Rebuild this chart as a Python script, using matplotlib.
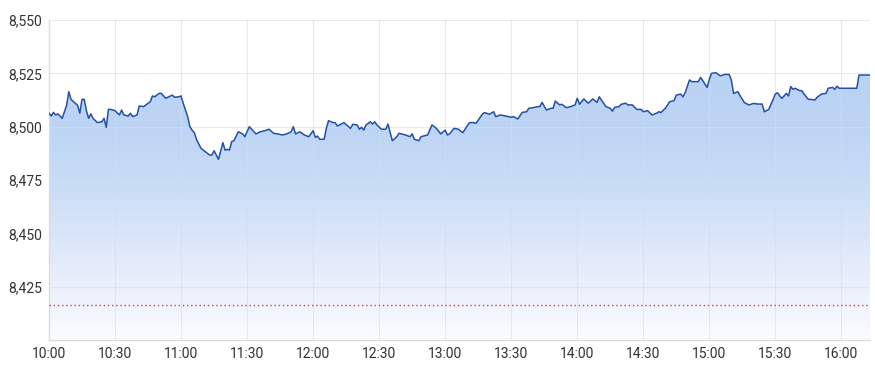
import numpy as np
import matplotlib
matplotlib.use("Agg")
import matplotlib.pyplot as plt
from matplotlib.patches import Polygon
from matplotlib.ticker import FuncFormatter

plt.rcParams["font.family"] = ["Roboto", "DejaVu Sans"]

# minutes after 10:00 and index level
minutes = [0, 1, 2, 3, 4, 5, 6, 8, 9, 10, 12, 13, 14, 15, 16, 17, 18, 19, 20, 22,
           24, 25, 26, 27, 28, 30, 32, 33, 34, 36, 37, 38, 40, 41, 43, 44, 46, 47, 48, 50,
           51, 53, 54, 56, 57, 59, 60, 61, 63, 64, 65, 66, 67, 69, 71, 73, 74, 75, 77, 79,
           80, 81, 82, 83, 84, 86, 88, 89, 91, 94, 96, 98, 100, 102, 104, 106, 108, 110, 111, 112,
           114, 116, 118, 120, 121, 122, 123, 125, 126, 127, 129, 130, 131, 134, 137, 138, 140, 141, 142, 143,
           144, 146, 147, 148, 149, 151, 153, 154, 155, 156, 158, 159, 162, 164, 165, 166, 168, 169, 172, 174,
           176, 178, 180, 181, 182, 184, 186, 188, 191, 193, 194, 197, 198, 200, 202, 203, 205, 207, 210, 211,
           213, 215, 217, 218, 220, 222, 223, 224, 226, 228, 229, 230, 232, 233, 235, 237, 239, 240, 241, 243,
           245, 247, 249, 250, 253, 255, 256, 257, 259, 260, 262, 263, 265, 267, 269, 270, 272, 274, 276, 277,
           278, 280, 282, 284, 285, 287, 288, 289, 291, 292, 294, 295, 296, 297, 299, 300, 301, 303, 305, 307,
           309, 310, 311, 313, 314, 316, 318, 320, 322, 324, 325, 326, 327, 329, 330, 331, 332, 333, 335, 336,
           337, 338, 339, 341, 342, 343, 345, 346, 348, 349, 351, 353, 354, 356, 357, 358, 359, 367, 368, 373]
level = [8506.3, 8505.0, 8506.7, 8505.5, 8506.0, 8505.0, 8503.9, 8510.0, 8516.4, 8512.8,
         8510.9, 8510.0, 8506.3, 8512.8, 8512.8, 8507.5, 8503.9, 8506.0, 8503.9, 8501.9,
         8502.3, 8503.9, 8499.7, 8508.1, 8508.1, 8507.5, 8505.5, 8507.8, 8505.5, 8505.0,
         8506.3, 8504.7, 8505.5, 8509.7, 8509.4, 8510.2, 8511.7, 8514.4, 8514.0, 8515.6,
         8515.6, 8513.3, 8513.8, 8514.8, 8513.8, 8514.0, 8514.4, 8510.9, 8504.7, 8500.0,
         8498.4, 8497.2, 8494.1, 8489.9, 8488.3, 8486.7, 8486.7, 8488.7, 8484.7, 8492.5,
         8489.0, 8489.4, 8489.0, 8493.0, 8493.4, 8497.6, 8496.6, 8495.3, 8500.0, 8496.6,
         8497.6, 8498.1, 8498.8, 8496.9, 8496.6, 8496.1, 8496.6, 8497.6, 8500.0, 8496.6,
         8497.6, 8496.1, 8495.3, 8498.1, 8495.0, 8495.6, 8494.1, 8494.1, 8499.2, 8502.8,
         8501.9, 8501.9, 8500.3, 8501.9, 8499.2, 8501.1, 8500.8, 8498.8, 8499.7, 8498.4,
         8500.8, 8502.3, 8501.2, 8502.3, 8500.8, 8498.8, 8498.8, 8501.2, 8497.2, 8493.4,
         8495.3, 8496.9, 8496.1, 8495.3, 8496.6, 8494.1, 8493.4, 8495.3, 8496.1, 8500.8,
         8499.2, 8496.6, 8498.4, 8496.1, 8496.6, 8499.2, 8498.8, 8497.2, 8501.9, 8501.9,
         8501.6, 8506.0, 8506.6, 8505.8, 8507.0, 8504.7, 8505.5, 8505.1, 8504.4, 8504.7,
         8503.6, 8506.7, 8507.0, 8508.6, 8508.9, 8509.4, 8509.4, 8511.4, 8507.8, 8508.6,
         8508.6, 8512.0, 8510.2, 8510.5, 8508.9, 8509.4, 8510.2, 8513.3, 8510.5, 8513.0,
         8511.0, 8513.0, 8511.4, 8514.0, 8509.4, 8508.6, 8507.3, 8509.1, 8509.4, 8510.5,
         8511.0, 8510.2, 8510.2, 8508.1, 8508.1, 8507.0, 8507.5, 8505.5, 8506.3, 8507.0,
         8506.6, 8508.6, 8511.7, 8512.2, 8514.8, 8515.3, 8514.0, 8515.9, 8521.9, 8521.1,
         8521.1, 8521.1, 8523.1, 8521.6, 8518.4, 8522.2, 8525.0, 8525.3, 8523.8, 8524.5,
         8524.5, 8521.9, 8515.6, 8516.4, 8514.4, 8511.2, 8510.2, 8510.9, 8510.6, 8510.6,
         8507.0, 8507.5, 8508.1, 8512.8, 8515.3, 8515.9, 8514.4, 8513.3, 8515.6, 8514.4,
         8518.8, 8517.5, 8518.0, 8516.9, 8516.9, 8515.3, 8512.8, 8512.8, 8512.5, 8513.8,
         8515.3, 8515.6, 8518.0, 8518.4, 8517.5, 8519.0, 8518.0, 8518.0, 8524.2, 8524.2]
prev_close = 8416.5

y_ticks = [8425, 8450, 8475, 8500, 8525, 8550]
x_ticks = list(range(0, 361, 30))
x_labels = [f"{10 + m // 60}:{m % 60:02d}" for m in x_ticks]

y_lo, y_hi = 8400, 8550
x_end = 373

fig = plt.figure(figsize=(8.75, 3.75), dpi=100)
ax = fig.add_axes([49 / 875, 1 - 340 / 375, 821 / 875, 320 / 375])

# vertical gradient fill under the line
ys = np.linspace(y_hi, y_lo, 300)
stops_y = [8550, 8500, 8475, 8437, 8400]
stops_c = np.array([[183, 208, 243], [189, 212, 245], [199, 220, 246],
                    [227, 235, 250], [250, 252, 255]]) / 255
grad = np.stack([np.interp(ys, stops_y[::-1], stops_c[::-1, i]) for i in range(3)], axis=1)
img = ax.imshow(grad[:, None, :], aspect="auto", extent=[0, x_end, y_lo, y_hi],
                origin="upper", zorder=1, interpolation="bilinear")
verts = list(zip(minutes, level)) + [(minutes[-1], y_lo), (minutes[0], y_lo)]
poly = Polygon(verts, closed=True, facecolor="none", edgecolor="none")
ax.add_patch(poly)
img.set_clip_path(poly)

ax.plot(minutes, level, color="#2450a6", lw=1.1, zorder=3)
ax.axhline(prev_close, color="#e53935", lw=1, ls=(0, (1, 2)), zorder=4)

ax.set_xlim(0, x_end)
ax.set_ylim(y_lo, y_hi)
ax.set_xticks(x_ticks)
ax.set_xticklabels(x_labels)
ax.set_yticks(y_ticks)
ax.yaxis.set_major_formatter(FuncFormatter(lambda v, p: f"{v:,.0f}"))
ax.grid(True, color="#d8dde6", lw=0.8, alpha=0.6, zorder=2)
ax.set_axisbelow(False)
ax.tick_params(length=0, labelsize=10, colors="#333333", pad=5)
for s in ["top", "right"]:
    ax.spines[s].set_visible(False)
for s in ["left", "bottom"]:
    ax.spines[s].set_color("#dddddd")
    ax.spines[s].set_linewidth(1)

fig.savefig("out.png", dpi=100, facecolor="white")
